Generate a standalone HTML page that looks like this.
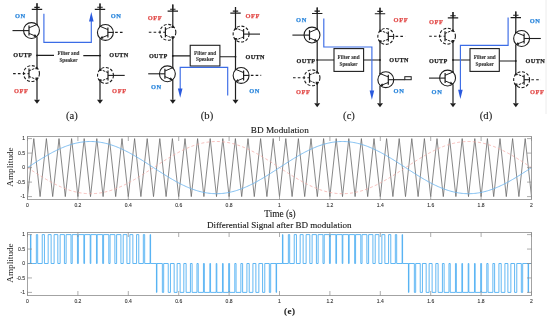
<!DOCTYPE html>
<html><head><meta charset="utf-8"><title>BD modulation</title><style>html,body{margin:0;padding:0;background:#fff;}svg{display:block;}</style></head><body>
<svg width="550" height="325" viewBox="0 0 550 325">
<rect width="550" height="325" fill="#fff"/>
<path d="M37,3.3V9.4M34.3,7.4H39.7M31.8,9.4H42.2" stroke="#1e1e1e" stroke-width="1.1" fill="none"/>
<path d="M100,3.5V9.4M97.3,7.3H102.7M94.8,9.4H105.2" stroke="#1e1e1e" stroke-width="1.1" fill="none"/>
<path d="M37,3.3V24.5M37,36.7V67.5M37,79.7V99.8" stroke="#1e1e1e" stroke-width="1.2" fill="none"/>
<path d="M37,103.8L34,99.8H40Z" fill="#1e1e1e"/>
<path d="M100,3.5V26.3M100,38.5V69.3M100,81.5V99.8" stroke="#1e1e1e" stroke-width="1.2" fill="none"/>
<path d="M100,103.8L97,99.8H103Z" fill="#1e1e1e"/>
<circle cx="31.5" cy="30.6" r="7.95" stroke="#1e1e1e" stroke-width="1.1" fill="none"/>
<path d="M29,25.6V35.6" stroke="#1e1e1e" stroke-width="1.2" fill="none"/>
<path d="M29,27.8L37,24.5M29,33.4L37,36.7" stroke="#1e1e1e" stroke-width="1" fill="none"/>
<path d="M36.82,36.62L33.62,37.04L34.84,34.08Z" fill="#1e1e1e"/>
<circle cx="37" cy="24.5" r="0.8" fill="#1e1e1e"/>
<path d="M12.5,30.6H29" stroke="#1e1e1e" stroke-width="1.1" fill="none"/>
<circle cx="31.5" cy="73.6" r="7.95" stroke="#1e1e1e" stroke-width="1.1" fill="none" stroke-dasharray="3,1.7"/>
<path d="M29,68.6V78.6" stroke="#1e1e1e" stroke-width="1.2" fill="none"/>
<path d="M29,70.8L37,67.5M29,76.4L37,79.7" stroke="#1e1e1e" stroke-width="1" stroke-dasharray="2.4,0.9" fill="none"/>
<path d="M37,80.7L35.3,77.5H38.7Z" fill="#1e1e1e"/>
<path d="M37,66.4L35.5,69.2H38.5Z" fill="#1e1e1e"/>
<path d="M13.1,73.6H29" stroke="#1e1e1e" stroke-width="1.1" stroke-dasharray="2.6,2.2" fill="none"/>
<circle cx="105.4" cy="32.4" r="7.95" stroke="#1e1e1e" stroke-width="1.1" fill="none"/>
<path d="M107.9,27.4V37.4" stroke="#1e1e1e" stroke-width="1.2" fill="none"/>
<path d="M107.9,29.6L100,26.3M107.9,35.2L100,38.5" stroke="#1e1e1e" stroke-width="1" fill="none"/>
<path d="M100.18,38.42L102.15,35.87L103.38,38.82Z" fill="#1e1e1e"/>
<circle cx="100" cy="26.3" r="0.8" fill="#1e1e1e"/>
<path d="M107.9,32.4H113.35" stroke="#1e1e1e" stroke-width="1.1" fill="none"/>
<path d="M115.15,32.4H124.3" stroke="#1e1e1e" stroke-width="1.1" stroke-dasharray="2.6,2.2" fill="none"/>
<circle cx="105.5" cy="75.4" r="7.95" stroke="#1e1e1e" stroke-width="1.1" fill="none" stroke-dasharray="3,1.7"/>
<path d="M108,70.4V80.4" stroke="#1e1e1e" stroke-width="1.2" fill="none"/>
<path d="M108,72.6L100,69.3M108,78.2L100,81.5" stroke="#1e1e1e" stroke-width="1" stroke-dasharray="2.4,0.9" fill="none"/>
<path d="M100,82.5L98.3,79.3H101.7Z" fill="#1e1e1e"/>
<path d="M100,68.2L98.5,71H101.5Z" fill="#1e1e1e"/>
<path d="M124.7,75.4H108" stroke="#1e1e1e" stroke-width="1.1" fill="none"/>
<path d="M37,55.4H54M83.3,55.6H100" stroke="#1e1e1e" stroke-width="1.1" fill="none"/>
<circle cx="37" cy="55.4" r="0.9" fill="#1e1e1e"/>
<circle cx="100" cy="55.6" r="0.9" fill="#1e1e1e"/>
<text x="68.5" y="54.6" fill="#3c3c3c" stroke="#3c3c3c" stroke-width="0.12" font-family="Liberation Serif, serif" font-weight="bold" font-size="5.2" text-anchor="middle">Filter and</text>
<text x="68.5" y="62" fill="#3c3c3c" stroke="#3c3c3c" stroke-width="0.12" font-family="Liberation Serif, serif" font-weight="bold" font-size="5.2" text-anchor="middle">Speaker</text>
<text x="13.3" y="57.3" fill="#222" stroke="#222" stroke-width="0.25" font-family="Liberation Serif, serif" font-weight="bold" font-size="6.2" letter-spacing="0.4" text-anchor="start">OUTP</text>
<text x="109.2" y="57.2" fill="#222" stroke="#222" stroke-width="0.25" font-family="Liberation Serif, serif" font-weight="bold" font-size="6.2" letter-spacing="0.4" text-anchor="start">OUTN</text>
<text x="14.9" y="18.2" fill="#2b86dc" stroke="#2b86dc" stroke-width="0.25" font-family="Liberation Serif, serif" font-weight="bold" font-size="6.4" letter-spacing="0.6" text-anchor="start">ON</text>
<text x="110.7" y="17.9" fill="#2b86dc" stroke="#2b86dc" stroke-width="0.25" font-family="Liberation Serif, serif" font-weight="bold" font-size="6.4" letter-spacing="0.6" text-anchor="start">ON</text>
<text x="14" y="93.4" fill="#e24a48" stroke="#e24a48" stroke-width="0.25" font-family="Liberation Serif, serif" font-weight="bold" font-size="6.4" letter-spacing="0.6" text-anchor="start">OFF</text>
<text x="112.1" y="92.6" fill="#e24a48" stroke="#e24a48" stroke-width="0.25" font-family="Liberation Serif, serif" font-weight="bold" font-size="6.4" letter-spacing="0.6" text-anchor="start">OFF</text>
<path d="M43.9,13.8V42.3H91.3V20" stroke="#3b6ce6" stroke-width="1.15" fill="none"/>
<path d="M91.3,12L89,21.4H93.6Z" fill="#2a5ade"/>
<path d="M172.8,4.6V11.1M170.1,9.2H175.5M167.6,11.1H178" stroke="#1e1e1e" stroke-width="1.1" fill="none"/>
<path d="M235.5,6.9V13.1M232.8,11.1H238.2M230.3,13.1H240.7" stroke="#1e1e1e" stroke-width="1.1" fill="none"/>
<path d="M172.8,4.6V26.2M172.8,38.4V67.7M172.8,79.9V99.8" stroke="#1e1e1e" stroke-width="1.2" fill="none"/>
<path d="M172.8,103.8L169.8,99.8H175.8Z" fill="#1e1e1e"/>
<path d="M235.5,6.9V28M235.5,40.2V69.3M235.5,81.5V99.8" stroke="#1e1e1e" stroke-width="1.2" fill="none"/>
<path d="M235.5,103.8L232.5,99.8H238.5Z" fill="#1e1e1e"/>
<circle cx="167.9" cy="32.3" r="7.95" stroke="#1e1e1e" stroke-width="1.1" fill="none" stroke-dasharray="3,1.7"/>
<path d="M165.4,27.3V37.3" stroke="#1e1e1e" stroke-width="1.2" fill="none"/>
<path d="M165.4,29.5L172.8,26.2M165.4,35.1L172.8,38.4" stroke="#1e1e1e" stroke-width="1" stroke-dasharray="2.4,0.9" fill="none"/>
<path d="M172.8,39.4L171.1,36.2H174.5Z" fill="#1e1e1e"/>
<path d="M172.8,25.1L171.3,27.9H174.3Z" fill="#1e1e1e"/>
<path d="M148.8,32.3H165.4" stroke="#1e1e1e" stroke-width="1.1" stroke-dasharray="2.6,2.2" fill="none"/>
<circle cx="167.4" cy="73.8" r="7.95" stroke="#1e1e1e" stroke-width="1.1" fill="none"/>
<path d="M164.9,68.8V78.8" stroke="#1e1e1e" stroke-width="1.2" fill="none"/>
<path d="M164.9,71L172.8,67.7M164.9,76.6L172.8,79.9" stroke="#1e1e1e" stroke-width="1" fill="none"/>
<path d="M172.62,79.82L169.42,80.22L170.65,77.27Z" fill="#1e1e1e"/>
<circle cx="172.8" cy="67.7" r="0.8" fill="#1e1e1e"/>
<path d="M148.2,73.8H164.9" stroke="#1e1e1e" stroke-width="1.1" fill="none"/>
<circle cx="241.1" cy="34.1" r="7.95" stroke="#1e1e1e" stroke-width="1.1" fill="none" stroke-dasharray="3,1.7"/>
<path d="M243.6,29.1V39.1" stroke="#1e1e1e" stroke-width="1.2" fill="none"/>
<path d="M243.6,31.3L235.5,28M243.6,36.9L235.5,40.2" stroke="#1e1e1e" stroke-width="1" stroke-dasharray="2.4,0.9" fill="none"/>
<path d="M235.5,41.2L233.8,38H237.2Z" fill="#1e1e1e"/>
<path d="M235.5,26.9L234,29.7H237Z" fill="#1e1e1e"/>
<path d="M260,34.1H243.6" stroke="#1e1e1e" stroke-width="1.1" fill="none"/>
<circle cx="241.1" cy="75.4" r="7.95" stroke="#1e1e1e" stroke-width="1.1" fill="none"/>
<path d="M243.6,70.4V80.4" stroke="#1e1e1e" stroke-width="1.2" fill="none"/>
<path d="M243.6,72.6L235.5,69.3M243.6,78.2L235.5,81.5" stroke="#1e1e1e" stroke-width="1" fill="none"/>
<path d="M235.69,81.42L237.67,78.89L238.88,81.85Z" fill="#1e1e1e"/>
<circle cx="235.5" cy="69.3" r="0.8" fill="#1e1e1e"/>
<path d="M243.6,75.4H249.05" stroke="#1e1e1e" stroke-width="1.1" fill="none"/>
<path d="M250.85,75.4H261.2" stroke="#1e1e1e" stroke-width="1.1" stroke-dasharray="2.6,2.2" fill="none"/>
<path d="M172.8,55.9H190.2M219.9,56.7H235.5" stroke="#1e1e1e" stroke-width="1.1" fill="none"/>
<rect x="190.2" y="45.3" width="29.7" height="20.7" stroke="#1e1e1e" stroke-width="1.1" fill="#fff"/>
<circle cx="172.8" cy="55.9" r="0.9" fill="#1e1e1e"/>
<circle cx="235.5" cy="56.7" r="0.9" fill="#1e1e1e"/>
<text x="205.1" y="54.5" fill="#3c3c3c" stroke="#3c3c3c" stroke-width="0.12" font-family="Liberation Serif, serif" font-weight="bold" font-size="5.2" text-anchor="middle">Filter and</text>
<text x="205.1" y="61.4" fill="#3c3c3c" stroke="#3c3c3c" stroke-width="0.12" font-family="Liberation Serif, serif" font-weight="bold" font-size="5.2" text-anchor="middle">Speaker</text>
<text x="148.9" y="58.3" fill="#222" stroke="#222" stroke-width="0.25" font-family="Liberation Serif, serif" font-weight="bold" font-size="6.2" letter-spacing="0.4" text-anchor="start">OUTP</text>
<text x="245.5" y="58.8" fill="#222" stroke="#222" stroke-width="0.25" font-family="Liberation Serif, serif" font-weight="bold" font-size="6.2" letter-spacing="0.4" text-anchor="start">OUTN</text>
<text x="147.8" y="19.5" fill="#e24a48" stroke="#e24a48" stroke-width="0.25" font-family="Liberation Serif, serif" font-weight="bold" font-size="6.4" letter-spacing="0.6" text-anchor="start">OFF</text>
<text x="245.4" y="18" fill="#e24a48" stroke="#e24a48" stroke-width="0.25" font-family="Liberation Serif, serif" font-weight="bold" font-size="6.4" letter-spacing="0.6" text-anchor="start">OFF</text>
<text x="151" y="88.5" fill="#2b86dc" stroke="#2b86dc" stroke-width="0.25" font-family="Liberation Serif, serif" font-weight="bold" font-size="6.4" letter-spacing="0.6" text-anchor="start">ON</text>
<text x="249.2" y="92.7" fill="#2b86dc" stroke="#2b86dc" stroke-width="0.25" font-family="Liberation Serif, serif" font-weight="bold" font-size="6.4" letter-spacing="0.6" text-anchor="start">ON</text>
<path d="M227.7,95.5V67.4H180.2V90" stroke="#3b6ce6" stroke-width="1.15" fill="none"/>
<path d="M180.2,97.8L177.9,88.6H182.5Z" fill="#2a5ade"/>
<path d="M317.2,7.4V13.5M314.5,11.1H319.9M312,13.5H322.4" stroke="#1e1e1e" stroke-width="1.1" fill="none"/>
<path d="M380,7.8V13.8M377.3,11.4H382.7M374.8,13.8H385.2" stroke="#1e1e1e" stroke-width="1.1" fill="none"/>
<path d="M317.2,7.4V29M317.2,41.2V71.7M317.2,83.9V103.2" stroke="#1e1e1e" stroke-width="1.2" fill="none"/>
<path d="M317.2,107.2L314.2,103.2H320.2Z" fill="#1e1e1e"/>
<path d="M380,7.8V30.3M380,42.5V73.6M380,85.8V103.2" stroke="#1e1e1e" stroke-width="1.2" fill="none"/>
<path d="M380,107.2L377,103.2H383Z" fill="#1e1e1e"/>
<circle cx="312" cy="35.1" r="7.95" stroke="#1e1e1e" stroke-width="1.1" fill="none"/>
<path d="M309.5,30.1V40.1" stroke="#1e1e1e" stroke-width="1.2" fill="none"/>
<path d="M309.5,32.3L317.2,29M309.5,37.9L317.2,41.2" stroke="#1e1e1e" stroke-width="1" fill="none"/>
<path d="M317.02,41.12L313.81,41.49L315.07,38.55Z" fill="#1e1e1e"/>
<circle cx="317.2" cy="29" r="0.8" fill="#1e1e1e"/>
<path d="M292.4,35.1H309.5" stroke="#1e1e1e" stroke-width="1.1" fill="none"/>
<circle cx="312" cy="77.8" r="7.95" stroke="#1e1e1e" stroke-width="1.1" fill="none" stroke-dasharray="3,1.7"/>
<path d="M309.5,72.8V82.8" stroke="#1e1e1e" stroke-width="1.2" fill="none"/>
<path d="M309.5,75L317.2,71.7M309.5,80.6L317.2,83.9" stroke="#1e1e1e" stroke-width="1" stroke-dasharray="2.4,0.9" fill="none"/>
<path d="M317.2,84.9L315.5,81.7H318.9Z" fill="#1e1e1e"/>
<path d="M317.2,70.6L315.7,73.4H318.7Z" fill="#1e1e1e"/>
<path d="M293,77.8H309.5" stroke="#1e1e1e" stroke-width="1.1" stroke-dasharray="2.6,2.2" fill="none"/>
<circle cx="385.8" cy="36.4" r="7.95" stroke="#1e1e1e" stroke-width="1.1" fill="none" stroke-dasharray="3,1.7"/>
<path d="M388.3,31.4V41.4" stroke="#1e1e1e" stroke-width="1.2" fill="none"/>
<path d="M388.3,33.6L380,30.3M388.3,39.2L380,42.5" stroke="#1e1e1e" stroke-width="1" stroke-dasharray="2.4,0.9" fill="none"/>
<path d="M380,43.5L378.3,40.3H381.7Z" fill="#1e1e1e"/>
<path d="M380,29.2L378.5,32H381.5Z" fill="#1e1e1e"/>
<path d="M388.3,36.4H393.75" stroke="#1e1e1e" stroke-width="1.1" fill="none"/>
<path d="M395.55,36.4H405.2" stroke="#1e1e1e" stroke-width="1.1" stroke-dasharray="2.6,2.2" fill="none"/>
<circle cx="385.8" cy="79.7" r="7.95" stroke="#1e1e1e" stroke-width="1.1" fill="none"/>
<path d="M388.3,74.7V84.7" stroke="#1e1e1e" stroke-width="1.2" fill="none"/>
<path d="M388.3,76.9L380,73.6M388.3,82.5L380,85.8" stroke="#1e1e1e" stroke-width="1" fill="none"/>
<path d="M380.19,85.73L382.2,83.2L383.38,86.18Z" fill="#1e1e1e"/>
<circle cx="380" cy="73.6" r="0.8" fill="#1e1e1e"/>
<path d="M404.8,79.7H388.3" stroke="#1e1e1e" stroke-width="1.1" fill="none"/>
<path d="M317.2,60H334M363.6,60H380" stroke="#1e1e1e" stroke-width="1.1" fill="none"/>
<rect x="334" y="48.6" width="29.6" height="22.8" stroke="#1e1e1e" stroke-width="1.1" fill="#fff"/>
<circle cx="317.2" cy="60" r="0.9" fill="#1e1e1e"/>
<circle cx="380" cy="60" r="0.9" fill="#1e1e1e"/>
<text x="348.6" y="58.9" fill="#3c3c3c" stroke="#3c3c3c" stroke-width="0.12" font-family="Liberation Serif, serif" font-weight="bold" font-size="5.2" text-anchor="middle">Filter and</text>
<text x="348.6" y="65.8" fill="#3c3c3c" stroke="#3c3c3c" stroke-width="0.12" font-family="Liberation Serif, serif" font-weight="bold" font-size="5.2" text-anchor="middle">Speaker</text>
<text x="296.6" y="63.4" fill="#222" stroke="#222" stroke-width="0.25" font-family="Liberation Serif, serif" font-weight="bold" font-size="6.2" letter-spacing="0.4" text-anchor="start">OUTP</text>
<text x="389.3" y="61.6" fill="#222" stroke="#222" stroke-width="0.25" font-family="Liberation Serif, serif" font-weight="bold" font-size="6.2" letter-spacing="0.4" text-anchor="start">OUTN</text>
<text x="296.1" y="22" fill="#2b86dc" stroke="#2b86dc" stroke-width="0.25" font-family="Liberation Serif, serif" font-weight="bold" font-size="6.4" letter-spacing="0.6" text-anchor="start">ON</text>
<text x="393.6" y="22" fill="#e24a48" stroke="#e24a48" stroke-width="0.25" font-family="Liberation Serif, serif" font-weight="bold" font-size="6.4" letter-spacing="0.6" text-anchor="start">OFF</text>
<text x="296" y="93.5" fill="#e24a48" stroke="#e24a48" stroke-width="0.25" font-family="Liberation Serif, serif" font-weight="bold" font-size="6.4" letter-spacing="0.6" text-anchor="start">OFF</text>
<text x="393.6" y="92.9" fill="#2b86dc" stroke="#2b86dc" stroke-width="0.25" font-family="Liberation Serif, serif" font-weight="bold" font-size="6.4" letter-spacing="0.6" text-anchor="start">ON</text>
<path d="M323.8,18.5V47H371.9V92" stroke="#3b6ce6" stroke-width="1.15" fill="none"/>
<path d="M371.9,99.8L369.6,90.6H374.2Z" fill="#2a5ade"/>
<rect x="404.8" y="76.7" width="6.4" height="3" stroke="#1e1e1e" stroke-width="1" fill="none"/>
<path d="M453,12V17.9M450.3,15.7H455.7M447.8,17.9H458.2" stroke="#1e1e1e" stroke-width="1.1" fill="none"/>
<path d="M515.8,11.4V17.6M513.1,15.2H518.5M510.6,17.6H521" stroke="#1e1e1e" stroke-width="1.1" fill="none"/>
<path d="M453,12V30.1M453,42.3V72M453,84.2V103.2" stroke="#1e1e1e" stroke-width="1.2" fill="none"/>
<path d="M453,107.2L450,103.2H456Z" fill="#1e1e1e"/>
<path d="M515.8,11.4V32.4M515.8,44.6V73.6M515.8,85.8V103.2" stroke="#1e1e1e" stroke-width="1.2" fill="none"/>
<path d="M515.8,107.2L512.8,103.2H518.8Z" fill="#1e1e1e"/>
<circle cx="447.5" cy="36.2" r="7.95" stroke="#1e1e1e" stroke-width="1.1" fill="none" stroke-dasharray="3,1.7"/>
<path d="M445,31.2V41.2" stroke="#1e1e1e" stroke-width="1.2" fill="none"/>
<path d="M445,33.4L453,30.1M445,39L453,42.3" stroke="#1e1e1e" stroke-width="1" stroke-dasharray="2.4,0.9" fill="none"/>
<path d="M453,43.3L451.3,40.1H454.7Z" fill="#1e1e1e"/>
<path d="M453,29L451.5,31.8H454.5Z" fill="#1e1e1e"/>
<path d="M429.2,36.2H445" stroke="#1e1e1e" stroke-width="1.1" stroke-dasharray="2.6,2.2" fill="none"/>
<circle cx="447.6" cy="78.1" r="7.95" stroke="#1e1e1e" stroke-width="1.1" fill="none"/>
<path d="M445.1,73.1V83.1" stroke="#1e1e1e" stroke-width="1.2" fill="none"/>
<path d="M445.1,75.3L453,72M445.1,80.9L453,84.2" stroke="#1e1e1e" stroke-width="1" fill="none"/>
<path d="M452.82,84.12L449.62,84.52L450.85,81.57Z" fill="#1e1e1e"/>
<circle cx="453" cy="72" r="0.8" fill="#1e1e1e"/>
<path d="M429,78.1H445.1" stroke="#1e1e1e" stroke-width="1.1" fill="none"/>
<circle cx="521.6" cy="38.5" r="7.95" stroke="#1e1e1e" stroke-width="1.1" fill="none"/>
<path d="M524.1,33.5V43.5" stroke="#1e1e1e" stroke-width="1.2" fill="none"/>
<path d="M524.1,35.7L515.8,32.4M524.1,41.3L515.8,44.6" stroke="#1e1e1e" stroke-width="1" fill="none"/>
<path d="M515.99,44.53L518,42L519.18,44.98Z" fill="#1e1e1e"/>
<circle cx="515.8" cy="32.4" r="0.8" fill="#1e1e1e"/>
<path d="M540.8,38.5H524.1" stroke="#1e1e1e" stroke-width="1.1" fill="none"/>
<circle cx="521.6" cy="79.7" r="7.95" stroke="#1e1e1e" stroke-width="1.1" fill="none" stroke-dasharray="3,1.7"/>
<path d="M524.1,74.7V84.7" stroke="#1e1e1e" stroke-width="1.2" fill="none"/>
<path d="M524.1,76.9L515.8,73.6M524.1,82.5L515.8,85.8" stroke="#1e1e1e" stroke-width="1" stroke-dasharray="2.4,0.9" fill="none"/>
<path d="M515.8,86.8L514.1,83.6H517.5Z" fill="#1e1e1e"/>
<path d="M515.8,72.5L514.3,75.3H517.3Z" fill="#1e1e1e"/>
<path d="M524.1,79.7H529.55" stroke="#1e1e1e" stroke-width="1.1" fill="none"/>
<path d="M531.35,79.7H541" stroke="#1e1e1e" stroke-width="1.1" stroke-dasharray="2.6,2.2" fill="none"/>
<path d="M453,60H470M499.3,61H515.8" stroke="#1e1e1e" stroke-width="1.1" fill="none"/>
<rect x="470" y="48.6" width="29.3" height="22.8" stroke="#1e1e1e" stroke-width="1.1" fill="#fff"/>
<circle cx="453" cy="60" r="0.9" fill="#1e1e1e"/>
<circle cx="515.8" cy="61" r="0.9" fill="#1e1e1e"/>
<text x="484.7" y="59.3" fill="#3c3c3c" stroke="#3c3c3c" stroke-width="0.12" font-family="Liberation Serif, serif" font-weight="bold" font-size="5.2" text-anchor="middle">Filter and</text>
<text x="484.7" y="66.2" fill="#3c3c3c" stroke="#3c3c3c" stroke-width="0.12" font-family="Liberation Serif, serif" font-weight="bold" font-size="5.2" text-anchor="middle">Speaker</text>
<text x="429" y="62.6" fill="#222" stroke="#222" stroke-width="0.25" font-family="Liberation Serif, serif" font-weight="bold" font-size="6.2" letter-spacing="0.4" text-anchor="start">OUTP</text>
<text x="525.6" y="62.6" fill="#222" stroke="#222" stroke-width="0.25" font-family="Liberation Serif, serif" font-weight="bold" font-size="6.2" letter-spacing="0.4" text-anchor="start">OUTN</text>
<text x="428.9" y="23.5" fill="#e24a48" stroke="#e24a48" stroke-width="0.25" font-family="Liberation Serif, serif" font-weight="bold" font-size="6.4" letter-spacing="0.6" text-anchor="start">OFF</text>
<text x="529.7" y="23.1" fill="#2b86dc" stroke="#2b86dc" stroke-width="0.25" font-family="Liberation Serif, serif" font-weight="bold" font-size="6.4" letter-spacing="0.6" text-anchor="start">ON</text>
<text x="431.6" y="93.5" fill="#2b86dc" stroke="#2b86dc" stroke-width="0.25" font-family="Liberation Serif, serif" font-weight="bold" font-size="6.4" letter-spacing="0.6" text-anchor="start">ON</text>
<text x="530" y="93.5" fill="#e24a48" stroke="#e24a48" stroke-width="0.25" font-family="Liberation Serif, serif" font-weight="bold" font-size="6.4" letter-spacing="0.6" text-anchor="start">OFF</text>
<path d="M508.1,17.5V45.4H460.4V91" stroke="#3b6ce6" stroke-width="1.15" fill="none"/>
<path d="M460.4,98.9L458.1,89.7H462.7Z" fill="#2a5ade"/>
<text x="71.9" y="118.8" font-family="Liberation Serif, serif" font-size="10.6" fill="#1a1a1a" stroke="#1a1a1a" stroke-width="0.12" text-anchor="middle">(a)</text>
<text x="207" y="118.8" font-family="Liberation Serif, serif" font-size="10.6" fill="#1a1a1a" stroke="#1a1a1a" stroke-width="0.12" text-anchor="middle">(b)</text>
<text x="349" y="118.8" font-family="Liberation Serif, serif" font-size="10.6" fill="#1a1a1a" stroke="#1a1a1a" stroke-width="0.12" text-anchor="middle">(c)</text>
<text x="486" y="118.8" font-family="Liberation Serif, serif" font-size="10.6" fill="#1a1a1a" stroke="#1a1a1a" stroke-width="0.12" text-anchor="middle">(d)</text>
<path d="M546,0V114" stroke="#ececec" stroke-width="1"/>
<polyline points="27.5,196.6 33.8,138.6 40.1,196.6 46.4,138.6 52.7,196.6 59,138.6 65.3,196.6 71.6,138.6 77.9,196.6 84.2,138.6 90.5,196.6 96.8,138.6 103.1,196.6 109.4,138.6 115.7,196.6 122,138.6 128.3,196.6 134.6,138.6 140.9,196.6 147.2,138.6 153.5,196.6 159.8,138.6 166.1,196.6 172.4,138.6 178.7,196.6 185,138.6 191.3,196.6 197.6,138.6 203.9,196.6 210.2,138.6 216.5,196.6 222.8,138.6 229.1,196.6 235.4,138.6 241.7,196.6 248,138.6 254.3,196.6 260.6,138.6 266.9,196.6 273.2,138.6 279.5,196.6 285.8,138.6 292.1,196.6 298.4,138.6 304.7,196.6 311,138.6 317.3,196.6 323.6,138.6 329.9,196.6 336.2,138.6 342.5,196.6 348.8,138.6 355.1,196.6 361.4,138.6 367.7,196.6 374,138.6 380.3,196.6 386.6,138.6 392.9,196.6 399.2,138.6 405.5,196.6 411.8,138.6 418.1,196.6 424.4,138.6 430.7,196.6 437,138.6 443.3,196.6 449.6,138.6 455.9,196.6 462.2,138.6 468.5,196.6 474.8,138.6 481.1,196.6 487.4,138.6 493.7,196.6 500,138.6 506.3,196.6 512.6,138.6 518.9,196.6 525.2,138.6 531.5,196.6" stroke="#6a6a6a" stroke-width="0.8" fill="none"/>
<polyline points="27.5,167.6 28.76,168.42 30.02,169.24 31.28,170.06 32.54,170.87 33.8,171.68 35.06,172.49 36.32,173.29 37.58,174.09 38.84,174.88 40.1,175.67 41.36,176.44 42.62,177.21 43.88,177.97 45.14,178.71 46.4,179.45 47.66,180.17 48.92,180.89 50.18,181.59 51.44,182.27 52.7,182.94 53.96,183.6 55.22,184.24 56.48,184.86 57.74,185.47 59,186.06 60.26,186.63 61.52,187.18 62.78,187.71 64.04,188.22 65.3,188.72 66.56,189.19 67.82,189.64 69.08,190.07 70.34,190.47 71.6,190.86 72.86,191.22 74.12,191.55 75.38,191.87 76.64,192.16 77.9,192.42 79.16,192.66 80.42,192.88 81.68,193.07 82.94,193.24 84.2,193.38 85.46,193.49 86.72,193.58 87.98,193.65 89.24,193.69 90.5,193.7 91.76,193.69 93.02,193.65 94.28,193.58 95.54,193.49 96.8,193.38 98.06,193.24 99.32,193.07 100.58,192.88 101.84,192.66 103.1,192.42 104.36,192.16 105.62,191.87 106.88,191.55 108.14,191.22 109.4,190.86 110.66,190.47 111.92,190.07 113.18,189.64 114.44,189.19 115.7,188.72 116.96,188.22 118.22,187.71 119.48,187.18 120.74,186.63 122,186.06 123.26,185.47 124.52,184.86 125.78,184.24 127.04,183.6 128.3,182.94 129.56,182.27 130.82,181.59 132.08,180.89 133.34,180.17 134.6,179.45 135.86,178.71 137.12,177.97 138.38,177.21 139.64,176.44 140.9,175.67 142.16,174.88 143.42,174.09 144.68,173.29 145.94,172.49 147.2,171.68 148.46,170.87 149.72,170.06 150.98,169.24 152.24,168.42 153.5,167.6 154.76,166.78 156.02,165.96 157.28,165.14 158.54,164.33 159.8,163.52 161.06,162.71 162.32,161.91 163.58,161.11 164.84,160.32 166.1,159.53 167.36,158.76 168.62,157.99 169.88,157.23 171.14,156.49 172.4,155.75 173.66,155.03 174.92,154.31 176.18,153.61 177.44,152.93 178.7,152.26 179.96,151.6 181.22,150.96 182.48,150.34 183.74,149.73 185,149.14 186.26,148.57 187.52,148.02 188.78,147.49 190.04,146.98 191.3,146.48 192.56,146.01 193.82,145.56 195.08,145.13 196.34,144.73 197.6,144.34 198.86,143.98 200.12,143.65 201.38,143.33 202.64,143.04 203.9,142.78 205.16,142.54 206.42,142.32 207.68,142.13 208.94,141.96 210.2,141.82 211.46,141.71 212.72,141.62 213.98,141.55 215.24,141.51 216.5,141.5 217.76,141.51 219.02,141.55 220.28,141.62 221.54,141.71 222.8,141.82 224.06,141.96 225.32,142.13 226.58,142.32 227.84,142.54 229.1,142.78 230.36,143.04 231.62,143.33 232.88,143.65 234.14,143.98 235.4,144.34 236.66,144.73 237.92,145.13 239.18,145.56 240.44,146.01 241.7,146.48 242.96,146.98 244.22,147.49 245.48,148.02 246.74,148.57 248,149.14 249.26,149.73 250.52,150.34 251.78,150.96 253.04,151.6 254.3,152.26 255.56,152.93 256.82,153.61 258.08,154.31 259.34,155.03 260.6,155.75 261.86,156.49 263.12,157.23 264.38,157.99 265.64,158.76 266.9,159.53 268.16,160.32 269.42,161.11 270.68,161.91 271.94,162.71 273.2,163.52 274.46,164.33 275.72,165.14 276.98,165.96 278.24,166.78 279.5,167.6 280.76,168.42 282.02,169.24 283.28,170.06 284.54,170.87 285.8,171.68 287.06,172.49 288.32,173.29 289.58,174.09 290.84,174.88 292.1,175.67 293.36,176.44 294.62,177.21 295.88,177.97 297.14,178.71 298.4,179.45 299.66,180.17 300.92,180.89 302.18,181.59 303.44,182.27 304.7,182.94 305.96,183.6 307.22,184.24 308.48,184.86 309.74,185.47 311,186.06 312.26,186.63 313.52,187.18 314.78,187.71 316.04,188.22 317.3,188.72 318.56,189.19 319.82,189.64 321.08,190.07 322.34,190.47 323.6,190.86 324.86,191.22 326.12,191.55 327.38,191.87 328.64,192.16 329.9,192.42 331.16,192.66 332.42,192.88 333.68,193.07 334.94,193.24 336.2,193.38 337.46,193.49 338.72,193.58 339.98,193.65 341.24,193.69 342.5,193.7 343.76,193.69 345.02,193.65 346.28,193.58 347.54,193.49 348.8,193.38 350.06,193.24 351.32,193.07 352.58,192.88 353.84,192.66 355.1,192.42 356.36,192.16 357.62,191.87 358.88,191.55 360.14,191.22 361.4,190.86 362.66,190.47 363.92,190.07 365.18,189.64 366.44,189.19 367.7,188.72 368.96,188.22 370.22,187.71 371.48,187.18 372.74,186.63 374,186.06 375.26,185.47 376.52,184.86 377.78,184.24 379.04,183.6 380.3,182.94 381.56,182.27 382.82,181.59 384.08,180.89 385.34,180.17 386.6,179.45 387.86,178.71 389.12,177.97 390.38,177.21 391.64,176.44 392.9,175.67 394.16,174.88 395.42,174.09 396.68,173.29 397.94,172.49 399.2,171.68 400.46,170.87 401.72,170.06 402.98,169.24 404.24,168.42 405.5,167.6 406.76,166.78 408.02,165.96 409.28,165.14 410.54,164.33 411.8,163.52 413.06,162.71 414.32,161.91 415.58,161.11 416.84,160.32 418.1,159.53 419.36,158.76 420.62,157.99 421.88,157.23 423.14,156.49 424.4,155.75 425.66,155.03 426.92,154.31 428.18,153.61 429.44,152.93 430.7,152.26 431.96,151.6 433.22,150.96 434.48,150.34 435.74,149.73 437,149.14 438.26,148.57 439.52,148.02 440.78,147.49 442.04,146.98 443.3,146.48 444.56,146.01 445.82,145.56 447.08,145.13 448.34,144.73 449.6,144.34 450.86,143.98 452.12,143.65 453.38,143.33 454.64,143.04 455.9,142.78 457.16,142.54 458.42,142.32 459.68,142.13 460.94,141.96 462.2,141.82 463.46,141.71 464.72,141.62 465.98,141.55 467.24,141.51 468.5,141.5 469.76,141.51 471.02,141.55 472.28,141.62 473.54,141.71 474.8,141.82 476.06,141.96 477.32,142.13 478.58,142.32 479.84,142.54 481.1,142.78 482.36,143.04 483.62,143.33 484.88,143.65 486.14,143.98 487.4,144.34 488.66,144.73 489.92,145.13 491.18,145.56 492.44,146.01 493.7,146.48 494.96,146.98 496.22,147.49 497.48,148.02 498.74,148.57 500,149.14 501.26,149.73 502.52,150.34 503.78,150.96 505.04,151.6 506.3,152.26 507.56,152.93 508.82,153.61 510.08,154.31 511.34,155.03 512.6,155.75 513.86,156.49 515.12,157.23 516.38,157.99 517.64,158.76 518.9,159.53 520.16,160.32 521.42,161.11 522.68,161.91 523.94,162.71 525.2,163.52 526.46,164.33 527.72,165.14 528.98,165.96 530.24,166.78 531.5,167.6" stroke="#f4aaa4" stroke-width="0.75" stroke-dasharray="3,2.2" fill="none"/>
<polyline points="27.5,167.6 28.76,166.78 30.02,165.96 31.28,165.14 32.54,164.33 33.8,163.52 35.06,162.71 36.32,161.91 37.58,161.11 38.84,160.32 40.1,159.53 41.36,158.76 42.62,157.99 43.88,157.23 45.14,156.49 46.4,155.75 47.66,155.03 48.92,154.31 50.18,153.61 51.44,152.93 52.7,152.26 53.96,151.6 55.22,150.96 56.48,150.34 57.74,149.73 59,149.14 60.26,148.57 61.52,148.02 62.78,147.49 64.04,146.98 65.3,146.48 66.56,146.01 67.82,145.56 69.08,145.13 70.34,144.73 71.6,144.34 72.86,143.98 74.12,143.65 75.38,143.33 76.64,143.04 77.9,142.78 79.16,142.54 80.42,142.32 81.68,142.13 82.94,141.96 84.2,141.82 85.46,141.71 86.72,141.62 87.98,141.55 89.24,141.51 90.5,141.5 91.76,141.51 93.02,141.55 94.28,141.62 95.54,141.71 96.8,141.82 98.06,141.96 99.32,142.13 100.58,142.32 101.84,142.54 103.1,142.78 104.36,143.04 105.62,143.33 106.88,143.65 108.14,143.98 109.4,144.34 110.66,144.73 111.92,145.13 113.18,145.56 114.44,146.01 115.7,146.48 116.96,146.98 118.22,147.49 119.48,148.02 120.74,148.57 122,149.14 123.26,149.73 124.52,150.34 125.78,150.96 127.04,151.6 128.3,152.26 129.56,152.93 130.82,153.61 132.08,154.31 133.34,155.03 134.6,155.75 135.86,156.49 137.12,157.23 138.38,157.99 139.64,158.76 140.9,159.53 142.16,160.32 143.42,161.11 144.68,161.91 145.94,162.71 147.2,163.52 148.46,164.33 149.72,165.14 150.98,165.96 152.24,166.78 153.5,167.6 154.76,168.42 156.02,169.24 157.28,170.06 158.54,170.87 159.8,171.68 161.06,172.49 162.32,173.29 163.58,174.09 164.84,174.88 166.1,175.67 167.36,176.44 168.62,177.21 169.88,177.97 171.14,178.71 172.4,179.45 173.66,180.17 174.92,180.89 176.18,181.59 177.44,182.27 178.7,182.94 179.96,183.6 181.22,184.24 182.48,184.86 183.74,185.47 185,186.06 186.26,186.63 187.52,187.18 188.78,187.71 190.04,188.22 191.3,188.72 192.56,189.19 193.82,189.64 195.08,190.07 196.34,190.47 197.6,190.86 198.86,191.22 200.12,191.55 201.38,191.87 202.64,192.16 203.9,192.42 205.16,192.66 206.42,192.88 207.68,193.07 208.94,193.24 210.2,193.38 211.46,193.49 212.72,193.58 213.98,193.65 215.24,193.69 216.5,193.7 217.76,193.69 219.02,193.65 220.28,193.58 221.54,193.49 222.8,193.38 224.06,193.24 225.32,193.07 226.58,192.88 227.84,192.66 229.1,192.42 230.36,192.16 231.62,191.87 232.88,191.55 234.14,191.22 235.4,190.86 236.66,190.47 237.92,190.07 239.18,189.64 240.44,189.19 241.7,188.72 242.96,188.22 244.22,187.71 245.48,187.18 246.74,186.63 248,186.06 249.26,185.47 250.52,184.86 251.78,184.24 253.04,183.6 254.3,182.94 255.56,182.27 256.82,181.59 258.08,180.89 259.34,180.17 260.6,179.45 261.86,178.71 263.12,177.97 264.38,177.21 265.64,176.44 266.9,175.67 268.16,174.88 269.42,174.09 270.68,173.29 271.94,172.49 273.2,171.68 274.46,170.87 275.72,170.06 276.98,169.24 278.24,168.42 279.5,167.6 280.76,166.78 282.02,165.96 283.28,165.14 284.54,164.33 285.8,163.52 287.06,162.71 288.32,161.91 289.58,161.11 290.84,160.32 292.1,159.53 293.36,158.76 294.62,157.99 295.88,157.23 297.14,156.49 298.4,155.75 299.66,155.03 300.92,154.31 302.18,153.61 303.44,152.93 304.7,152.26 305.96,151.6 307.22,150.96 308.48,150.34 309.74,149.73 311,149.14 312.26,148.57 313.52,148.02 314.78,147.49 316.04,146.98 317.3,146.48 318.56,146.01 319.82,145.56 321.08,145.13 322.34,144.73 323.6,144.34 324.86,143.98 326.12,143.65 327.38,143.33 328.64,143.04 329.9,142.78 331.16,142.54 332.42,142.32 333.68,142.13 334.94,141.96 336.2,141.82 337.46,141.71 338.72,141.62 339.98,141.55 341.24,141.51 342.5,141.5 343.76,141.51 345.02,141.55 346.28,141.62 347.54,141.71 348.8,141.82 350.06,141.96 351.32,142.13 352.58,142.32 353.84,142.54 355.1,142.78 356.36,143.04 357.62,143.33 358.88,143.65 360.14,143.98 361.4,144.34 362.66,144.73 363.92,145.13 365.18,145.56 366.44,146.01 367.7,146.48 368.96,146.98 370.22,147.49 371.48,148.02 372.74,148.57 374,149.14 375.26,149.73 376.52,150.34 377.78,150.96 379.04,151.6 380.3,152.26 381.56,152.93 382.82,153.61 384.08,154.31 385.34,155.03 386.6,155.75 387.86,156.49 389.12,157.23 390.38,157.99 391.64,158.76 392.9,159.53 394.16,160.32 395.42,161.11 396.68,161.91 397.94,162.71 399.2,163.52 400.46,164.33 401.72,165.14 402.98,165.96 404.24,166.78 405.5,167.6 406.76,168.42 408.02,169.24 409.28,170.06 410.54,170.87 411.8,171.68 413.06,172.49 414.32,173.29 415.58,174.09 416.84,174.88 418.1,175.67 419.36,176.44 420.62,177.21 421.88,177.97 423.14,178.71 424.4,179.45 425.66,180.17 426.92,180.89 428.18,181.59 429.44,182.27 430.7,182.94 431.96,183.6 433.22,184.24 434.48,184.86 435.74,185.47 437,186.06 438.26,186.63 439.52,187.18 440.78,187.71 442.04,188.22 443.3,188.72 444.56,189.19 445.82,189.64 447.08,190.07 448.34,190.47 449.6,190.86 450.86,191.22 452.12,191.55 453.38,191.87 454.64,192.16 455.9,192.42 457.16,192.66 458.42,192.88 459.68,193.07 460.94,193.24 462.2,193.38 463.46,193.49 464.72,193.58 465.98,193.65 467.24,193.69 468.5,193.7 469.76,193.69 471.02,193.65 472.28,193.58 473.54,193.49 474.8,193.38 476.06,193.24 477.32,193.07 478.58,192.88 479.84,192.66 481.1,192.42 482.36,192.16 483.62,191.87 484.88,191.55 486.14,191.22 487.4,190.86 488.66,190.47 489.92,190.07 491.18,189.64 492.44,189.19 493.7,188.72 494.96,188.22 496.22,187.71 497.48,187.18 498.74,186.63 500,186.06 501.26,185.47 502.52,184.86 503.78,184.24 505.04,183.6 506.3,182.94 507.56,182.27 508.82,181.59 510.08,180.89 511.34,180.17 512.6,179.45 513.86,178.71 515.12,177.97 516.38,177.21 517.64,176.44 518.9,175.67 520.16,174.88 521.42,174.09 522.68,173.29 523.94,172.49 525.2,171.68 526.46,170.87 527.72,170.06 528.98,169.24 530.24,168.42 531.5,167.6" stroke="#6db5ee" stroke-width="0.85" fill="none"/>
<rect x="27.5" y="136.5" width="504" height="63" stroke="#9a9a9a" stroke-width="0.9" fill="none"/>
<path d="M27.5,199.5V195M27.5,136.5V141M77.9,199.5V195M77.9,136.5V141M128.3,199.5V195M128.3,136.5V141M178.7,199.5V195M178.7,136.5V141M229.1,199.5V195M229.1,136.5V141M279.5,199.5V195M279.5,136.5V141M329.9,199.5V195M329.9,136.5V141M380.3,199.5V195M380.3,136.5V141M430.7,199.5V195M430.7,136.5V141M481.1,199.5V195M481.1,136.5V141M531.5,199.5V195M531.5,136.5V141M27.5,196.6H32M531.5,196.6H527M27.5,182.1H32M531.5,182.1H527M27.5,167.6H32M531.5,167.6H527M27.5,153.1H32M531.5,153.1H527M27.5,138.6H32M531.5,138.6H527" stroke="#8a8a8a" stroke-width="0.7" fill="none"/>
<text x="27.5" y="207" font-family="Liberation Sans, sans-serif" font-size="5" fill="#333" stroke="#333" stroke-width="0.1" text-anchor="middle">0</text>
<text x="77.9" y="207" font-family="Liberation Sans, sans-serif" font-size="5" fill="#333" stroke="#333" stroke-width="0.1" text-anchor="middle">0.2</text>
<text x="128.3" y="207" font-family="Liberation Sans, sans-serif" font-size="5" fill="#333" stroke="#333" stroke-width="0.1" text-anchor="middle">0.4</text>
<text x="178.7" y="207" font-family="Liberation Sans, sans-serif" font-size="5" fill="#333" stroke="#333" stroke-width="0.1" text-anchor="middle">0.6</text>
<text x="229.1" y="207" font-family="Liberation Sans, sans-serif" font-size="5" fill="#333" stroke="#333" stroke-width="0.1" text-anchor="middle">0.8</text>
<text x="279.5" y="207" font-family="Liberation Sans, sans-serif" font-size="5" fill="#333" stroke="#333" stroke-width="0.1" text-anchor="middle">1</text>
<text x="329.9" y="207" font-family="Liberation Sans, sans-serif" font-size="5" fill="#333" stroke="#333" stroke-width="0.1" text-anchor="middle">1.2</text>
<text x="380.3" y="207" font-family="Liberation Sans, sans-serif" font-size="5" fill="#333" stroke="#333" stroke-width="0.1" text-anchor="middle">1.4</text>
<text x="430.7" y="207" font-family="Liberation Sans, sans-serif" font-size="5" fill="#333" stroke="#333" stroke-width="0.1" text-anchor="middle">1.6</text>
<text x="481.1" y="207" font-family="Liberation Sans, sans-serif" font-size="5" fill="#333" stroke="#333" stroke-width="0.1" text-anchor="middle">1.8</text>
<text x="531.5" y="207" font-family="Liberation Sans, sans-serif" font-size="5" fill="#333" stroke="#333" stroke-width="0.1" text-anchor="middle">2</text>
<text x="25" y="140.4" font-family="Liberation Sans, sans-serif" font-size="5" fill="#333" stroke="#333" stroke-width="0.1" text-anchor="end">1</text>
<text x="25" y="154.9" font-family="Liberation Sans, sans-serif" font-size="5" fill="#333" stroke="#333" stroke-width="0.1" text-anchor="end">0.5</text>
<text x="25" y="169.4" font-family="Liberation Sans, sans-serif" font-size="5" fill="#333" stroke="#333" stroke-width="0.1" text-anchor="end">0</text>
<text x="25" y="183.9" font-family="Liberation Sans, sans-serif" font-size="5" fill="#333" stroke="#333" stroke-width="0.1" text-anchor="end">-0.5</text>
<text x="25" y="198.4" font-family="Liberation Sans, sans-serif" font-size="5" fill="#333" stroke="#333" stroke-width="0.1" text-anchor="end">-1</text>
<text x="279.8" y="133.3" font-family="Liberation Serif, serif" font-size="9.2" fill="#1a1a1a" stroke="#1a1a1a" stroke-width="0.12" text-anchor="middle">BD Modulation</text>
<text x="280" y="216.5" font-family="Liberation Serif, serif" font-size="9.3" fill="#1a1a1a" stroke="#1a1a1a" stroke-width="0.12" text-anchor="middle">Time (s)</text>
<text transform="translate(13.2,167) rotate(-90)" font-family="Liberation Serif, serif" font-size="9.2" fill="#222" text-anchor="middle">Amplitude</text>
<path d="M27.5,263.5 30.45,263.5 30.45,234.6 30.9,234.6 30.9,263.5 36.35,263.5 36.35,234.6 37.68,234.6 37.68,263.5 42.24,263.5 42.24,234.6 44.43,234.6 44.43,263.5 48.16,263.5 48.16,234.6 51.14,234.6 51.14,263.5 54.11,263.5 54.11,234.6 57.82,234.6 57.82,263.5 60.11,263.5 60.11,234.6 64.42,234.6 64.42,263.5 66.13,263.5 66.13,234.6 70.97,234.6 70.97,263.5 72.23,263.5 72.23,234.6 77.45,234.6 77.45,263.5 78.35,263.5 78.35,234.6 83.85,234.6 83.85,263.5 84.55,263.5 84.55,234.6 90.2,234.6 90.2,263.5 90.83,263.5 90.83,234.6 96.47,234.6 96.47,263.5 97.18,263.5 97.18,234.6 102.67,234.6 102.67,263.5 103.58,263.5 103.58,234.6 108.8,234.6 108.8,263.5 110.06,263.5 110.06,234.6 114.89,234.6 114.89,263.5 116.61,263.5 116.61,234.6 120.92,234.6 120.92,263.5 123.21,263.5 123.21,234.6 126.91,234.6 126.91,263.5 129.89,263.5 129.89,234.6 132.86,234.6 132.86,263.5 136.59,263.5 136.59,234.6 138.78,234.6 138.78,263.5 143.34,263.5 143.34,234.6 144.68,234.6 144.68,263.5 150.12,263.5 150.12,234.6 150.58,234.6 150.58,263.5 156.45,263.5 156.45,292.4 156.9,292.4 156.9,263.5 162.35,263.5 162.35,292.4 163.68,292.4 163.68,263.5 168.24,263.5 168.24,292.4 170.43,292.4 170.43,263.5 174.16,263.5 174.16,292.4 177.14,292.4 177.14,263.5 180.11,263.5 180.11,292.4 183.82,292.4 183.82,263.5 186.11,263.5 186.11,292.4 190.42,292.4 190.42,263.5 192.13,263.5 192.13,292.4 196.97,292.4 196.97,263.5 198.23,263.5 198.23,292.4 203.45,292.4 203.45,263.5 204.35,263.5 204.35,292.4 209.85,292.4 209.85,263.5 210.55,263.5 210.55,292.4 216.2,292.4 216.2,263.5 216.83,263.5 216.83,292.4 222.47,292.4 222.47,263.5 223.18,263.5 223.18,292.4 228.67,292.4 228.67,263.5 229.58,263.5 229.58,292.4 234.8,292.4 234.8,263.5 236.06,263.5 236.06,292.4 240.89,292.4 240.89,263.5 242.61,263.5 242.61,292.4 246.92,292.4 246.92,263.5 249.21,263.5 249.21,292.4 252.91,292.4 252.91,263.5 255.89,263.5 255.89,292.4 258.86,292.4 258.86,263.5 262.59,263.5 262.59,292.4 264.78,292.4 264.78,263.5 269.34,263.5 269.34,292.4 270.68,292.4 270.68,263.5 276.12,263.5 276.12,292.4 276.58,292.4 276.58,263.5 282.45,263.5 282.45,234.6 282.9,234.6 282.9,263.5 288.35,263.5 288.35,234.6 289.68,234.6 289.68,263.5 294.24,263.5 294.24,234.6 296.43,234.6 296.43,263.5 300.16,263.5 300.16,234.6 303.14,234.6 303.14,263.5 306.11,263.5 306.11,234.6 309.82,234.6 309.82,263.5 312.11,263.5 312.11,234.6 316.42,234.6 316.42,263.5 318.13,263.5 318.13,234.6 322.97,234.6 322.97,263.5 324.23,263.5 324.23,234.6 329.45,234.6 329.45,263.5 330.35,263.5 330.35,234.6 335.85,234.6 335.85,263.5 336.55,263.5 336.55,234.6 342.2,234.6 342.2,263.5 342.83,263.5 342.83,234.6 348.47,234.6 348.47,263.5 349.18,263.5 349.18,234.6 354.67,234.6 354.67,263.5 355.58,263.5 355.58,234.6 360.8,234.6 360.8,263.5 362.06,263.5 362.06,234.6 366.89,234.6 366.89,263.5 368.61,263.5 368.61,234.6 372.92,234.6 372.92,263.5 375.21,263.5 375.21,234.6 378.91,234.6 378.91,263.5 381.89,263.5 381.89,234.6 384.86,234.6 384.86,263.5 388.59,263.5 388.59,234.6 390.78,234.6 390.78,263.5 395.34,263.5 395.34,234.6 396.68,234.6 396.68,263.5 402.12,263.5 402.12,234.6 402.58,234.6 402.58,263.5 408.45,263.5 408.45,292.4 408.9,292.4 408.9,263.5 414.35,263.5 414.35,292.4 415.68,292.4 415.68,263.5 420.24,263.5 420.24,292.4 422.43,292.4 422.43,263.5 426.16,263.5 426.16,292.4 429.14,292.4 429.14,263.5 432.11,263.5 432.11,292.4 435.82,292.4 435.82,263.5 438.11,263.5 438.11,292.4 442.42,292.4 442.42,263.5 444.13,263.5 444.13,292.4 448.97,292.4 448.97,263.5 450.23,263.5 450.23,292.4 455.45,292.4 455.45,263.5 456.35,263.5 456.35,292.4 461.85,292.4 461.85,263.5 462.55,263.5 462.55,292.4 468.2,292.4 468.2,263.5 468.83,263.5 468.83,292.4 474.47,292.4 474.47,263.5 475.18,263.5 475.18,292.4 480.67,292.4 480.67,263.5 481.58,263.5 481.58,292.4 486.8,292.4 486.8,263.5 488.06,263.5 488.06,292.4 492.89,292.4 492.89,263.5 494.61,263.5 494.61,292.4 498.92,292.4 498.92,263.5 501.21,263.5 501.21,292.4 504.91,292.4 504.91,263.5 507.89,263.5 507.89,292.4 510.86,292.4 510.86,263.5 514.59,263.5 514.59,292.4 516.78,292.4 516.78,263.5 521.34,263.5 521.34,292.4 522.68,292.4 522.68,263.5 528.12,263.5 528.12,292.4 528.58,292.4 528.58,263.5 531.5,263.5" stroke="#46abf2" stroke-width="0.85" fill="none"/>
<rect x="27.5" y="232.5" width="504" height="63" stroke="#9a9a9a" stroke-width="0.9" fill="none"/>
<path d="M27.5,295.5V291M27.5,232.5V237M77.9,295.5V291M77.9,232.5V237M128.3,295.5V291M128.3,232.5V237M178.7,295.5V291M178.7,232.5V237M229.1,295.5V291M229.1,232.5V237M279.5,295.5V291M279.5,232.5V237M329.9,295.5V291M329.9,232.5V237M380.3,295.5V291M380.3,232.5V237M430.7,295.5V291M430.7,232.5V237M481.1,295.5V291M481.1,232.5V237M531.5,295.5V291M531.5,232.5V237M27.5,292.4H32M531.5,292.4H527M27.5,277.95H32M531.5,277.95H527M27.5,263.5H32M531.5,263.5H527M27.5,249.05H32M531.5,249.05H527M27.5,234.6H32M531.5,234.6H527" stroke="#8a8a8a" stroke-width="0.7" fill="none"/>
<text x="27.5" y="302.6" font-family="Liberation Sans, sans-serif" font-size="5" fill="#333" stroke="#333" stroke-width="0.1" text-anchor="middle">0</text>
<text x="77.9" y="302.6" font-family="Liberation Sans, sans-serif" font-size="5" fill="#333" stroke="#333" stroke-width="0.1" text-anchor="middle">0.2</text>
<text x="128.3" y="302.6" font-family="Liberation Sans, sans-serif" font-size="5" fill="#333" stroke="#333" stroke-width="0.1" text-anchor="middle">0.4</text>
<text x="178.7" y="302.6" font-family="Liberation Sans, sans-serif" font-size="5" fill="#333" stroke="#333" stroke-width="0.1" text-anchor="middle">0.6</text>
<text x="229.1" y="302.6" font-family="Liberation Sans, sans-serif" font-size="5" fill="#333" stroke="#333" stroke-width="0.1" text-anchor="middle">0.8</text>
<text x="279.5" y="302.6" font-family="Liberation Sans, sans-serif" font-size="5" fill="#333" stroke="#333" stroke-width="0.1" text-anchor="middle">1</text>
<text x="329.9" y="302.6" font-family="Liberation Sans, sans-serif" font-size="5" fill="#333" stroke="#333" stroke-width="0.1" text-anchor="middle">1.2</text>
<text x="380.3" y="302.6" font-family="Liberation Sans, sans-serif" font-size="5" fill="#333" stroke="#333" stroke-width="0.1" text-anchor="middle">1.4</text>
<text x="430.7" y="302.6" font-family="Liberation Sans, sans-serif" font-size="5" fill="#333" stroke="#333" stroke-width="0.1" text-anchor="middle">1.6</text>
<text x="481.1" y="302.6" font-family="Liberation Sans, sans-serif" font-size="5" fill="#333" stroke="#333" stroke-width="0.1" text-anchor="middle">1.8</text>
<text x="531.5" y="302.6" font-family="Liberation Sans, sans-serif" font-size="5" fill="#333" stroke="#333" stroke-width="0.1" text-anchor="middle">2</text>
<text x="25" y="236.4" font-family="Liberation Sans, sans-serif" font-size="5" fill="#333" stroke="#333" stroke-width="0.1" text-anchor="end">1</text>
<text x="25" y="250.85" font-family="Liberation Sans, sans-serif" font-size="5" fill="#333" stroke="#333" stroke-width="0.1" text-anchor="end">0.5</text>
<text x="25" y="265.3" font-family="Liberation Sans, sans-serif" font-size="5" fill="#333" stroke="#333" stroke-width="0.1" text-anchor="end">0</text>
<text x="25" y="279.75" font-family="Liberation Sans, sans-serif" font-size="5" fill="#333" stroke="#333" stroke-width="0.1" text-anchor="end">-0.5</text>
<text x="25" y="294.2" font-family="Liberation Sans, sans-serif" font-size="5" fill="#333" stroke="#333" stroke-width="0.1" text-anchor="end">-1</text>
<text x="279.2" y="228.3" font-family="Liberation Serif, serif" font-size="9.05" fill="#1a1a1a" stroke="#1a1a1a" stroke-width="0.12" text-anchor="middle">Differential Signal after BD modulation</text>
<text transform="translate(13.4,263) rotate(-90)" font-family="Liberation Serif, serif" font-size="9.2" fill="#222" text-anchor="middle">Amplitude</text>
<text x="289.8" y="314.4" font-family="Liberation Serif, serif" font-size="9.0" fill="#1a1a1a" stroke="#1a1a1a" stroke-width="0.12" text-anchor="middle" font-weight="bold" letter-spacing="0.6">(e)</text>
</svg>
</body></html>
